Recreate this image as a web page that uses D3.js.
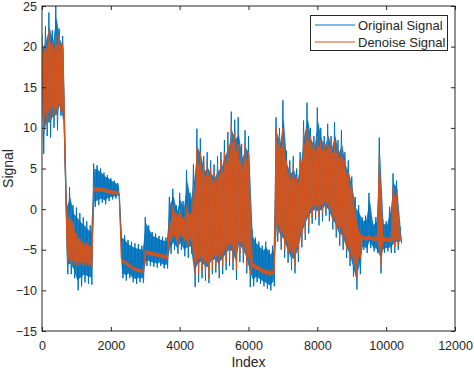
<!DOCTYPE html>
<html>
<head>
<meta charset="utf-8">
<script src="https://cdn.jsdelivr.net/npm/d3@7"></script>
<style>
  html, body { margin: 0; padding: 0; background: #fff; }
  text { font-family: "Liberation Sans", Arial, Helvetica, sans-serif; fill: #262626; }
</style>
</head>
<body>
<svg id="chart" width="474" height="370"></svg>
<script>
// ---- data (per 100-sample bin: upper and lower envelope) ----
const binStep = 100;
const origHi = [21.5,22.5,24.2,22,25.5,22.2,21.3,1.5,
  2.7,0.5,0.2,-0.5,-1.0,-1.5,-2.0,
  5.6,5.4,5.0,4.5,4.2,3.8,3.5,3.2,
  -2.8,-3.2,-3.8,-4.0,-4.2,-4.3,-4.5,
  -1.0,-2.0,-2.8,-3.0,-3.3,-3.4,-3.5,
  1.5,2.5,0.5,2.0,1.0,4.8,2.0,
  5.5,9.9,8.7,6.5,7.0,6.0,5.5,6.5,7.0,8.5,9.5,12.0,11.0,11.3,8.0,9.7,9.0,
  -2.5,-3.5,-4.0,-4.5,-4.0,-5.0,-4.5,
  11.3,10.0,13.4,7.2,6.0,6.5,5.0,7.0,10.9,13.1,10.0,9.0,12.5,10.0,9.0,10.5,9.0,10.7,8.5,9.7,7.0,6.0,4.0,1.5,
  0.5,-1.0,-0.8,2.0,-1.5,-1.0,8.8,-1.3,-1.5,0.3,4.4,3.5,-2.2];
const origLo = [6.8,9.0,8.8,10,9.7,11.5,9.3,-8,
  -8,-8.5,-10,-9.5,-9,-9.2,-9.3,
  0.3,0.5,0.8,0.6,1.0,1.2,1.3,1.5,
  -8.5,-8.8,-8.5,-9.0,-9.2,-9.0,-9.1,
  -7,-7.0,-7.1,-7.2,-7.0,-7.3,-7.3,
  -5.5,-5.0,-5.5,-5.0,-5.8,-6.0,-5.5,
  -9.6,-9,-8.5,-8.8,-9.1,-8.0,-7.8,-8.5,-8.0,-7.5,-7.0,-7.5,-8.7,-6.5,-6.6,-7.9,-9.6,
  -9.5,-9.0,-9.2,-9.5,-9.8,-10.0,-9.5,
  -4,-5,-6,-6.6,-7.5,-7.9,-6.5,-4.7,-3.8,-3.0,-1.8,-1.3,-2.0,-1.5,-0.8,-1.5,-2.5,-3.5,-4.5,-5.0,-6.0,-7.0,-8.3,-9.9,
  -8,-5.0,-5.4,-4.8,-5.2,-5.4,-7.9,-5.4,-5.2,-5.4,-5.4,-5.0,-4.2];
const denoiseHi = [20.5,21,22,20.5,21.5,21.5,20.5,-0.1,
  -0.5,-1.5,-3,-3.5,-4,-4,-4.5,
  2.8,2.7,2.7,2.6,2.5,2.4,2.3,2.2,
  -6.0,-6.3,-6.6,-6.9,-7.2,-7.3,-7.4,
  -5.0,-5.1,-5.2,-5.3,-5.4,-5.5,-5.6,
  -1.5,0.5,-0.5,0,-1,0.5,-0.5,
  3,7.5,7,5.5,6,5,4.5,5.5,6,7,8,10.5,9.5,8,6.5,8,7,
  -6.5,-6.8,-7.0,-7.3,-7.4,-7.5,-7.5,
  10,9,10,6,5,5.5,4,6,9.5,10,9,8,9,8.5,8,9,8,8.5,7.5,8,6,4.5,3,0,
  -2.5,-3.2,-3.3,-3.2,-3.4,-3.3,6.4,-3.4,-3.4,-3.5,2.7,2,-3.3];
const denoiseLo = [9.5,10.5,11,11.5,11,12,10.5,-6.6,
  -7,-7,-7,-7,-7,-7,-7.2,
  2.2,2.1,2.1,2.0,1.9,1.8,1.8,1.8,
  -6.6,-6.9,-7.2,-7.5,-7.7,-7.8,-7.9,
  -5.6,-5.7,-5.8,-5.9,-6.0,-6.1,-6.2,
  -4,-3.5,-4.5,-3.5,-4,-4.5,-4,
  -8,-8,-7.5,-8,-8.5,-7.5,-7,-7.5,-7,-6.5,-6,-6.5,-7.5,-5.5,-5.5,-7,-8,
  -7.3,-7.5,-7.7,-8,-8.1,-8.2,-8.0,
  -3,-4,-5,-5.5,-6.5,-7,-5.5,-4,-3,-2,-1,-0.5,-1,-0.5,0,-0.5,-1.5,-2.5,-3.5,-4,-5,-6,-7,-8.5,
  -6,-3.8,-3.9,-3.8,-4.0,-3.9,-7,-4.0,-4.0,-4.1,-4.7,-4.5,-3.7];
const xTicks = [0,2000,4000,6000,8000,10000,12000];
const yTicks = [-15,-10,-5,0,5,10,15,20,25];
const seriesNames = ["Original Signal","Denoise Signal"];
const seriesColors = ["#0072BD","#D95319"];

// ---- layout ----
const svg = d3.select("#chart");
const L = 42, R = 455, T = 6, B = 331;
const x = d3.scaleLinear().domain([0,12000]).range([L,R]);
const y = d3.scaleLinear().domain([-15,25]).range([B,T]);
const axisColor = "#262626";

function zig(hi, lo) {
  const pts = [];
  hi.forEach((h,i) => {
    pts.push([i*binStep, h]);
    pts.push([i*binStep + binStep/2, lo[i]]);
  });
  return pts;
}
// inner core of each bin (a little inside the extremes) as a filled band
function core(hi, lo) {
  return hi.map((h,i) => ({i: i*binStep + binStep/4, hi: h - (h-lo[i])*0.12, lo: lo[i] + (h-lo[i])*0.12}));
}
const line = d3.line().x(d => x(d[0])).y(d => y(d[1]));
const area = d3.area().x(d => x(d.i)).y0(d => y(d.lo)).y1(d => y(d.hi));

svg.append("defs").append("clipPath").attr("id","clip")
  .append("rect").attr("x",L).attr("y",T).attr("width",R-L).attr("height",B-T);

const g = svg.append("g").attr("clip-path","url(#clip)");
[[origHi, origLo],[denoiseHi, denoiseLo]].forEach(([hi, lo], k) => {
  g.append("path").attr("d", area(core(hi, lo)))
    .attr("fill", seriesColors[k]).attr("fill-opacity", k ? 0.85 : 0.9).attr("stroke","none");
  g.append("path").attr("d", line(zig(hi, lo)))
    .attr("fill","none").attr("stroke",seriesColors[k]).attr("stroke-width",1).attr("stroke-linejoin","round");
});

// ---- axes (MATLAB box style, inward ticks) ----
function styleAxis(sel) {
  sel.select(".domain").remove();
  sel.selectAll(".tick line").attr("stroke",axisColor);
  sel.selectAll(".tick text").attr("fill",axisColor).style("font-size","12.5px")
     .style("font-family",'"Liberation Sans", Arial, sans-serif');
}
svg.append("g").attr("transform",`translate(0,${B})`)
  .call(d3.axisBottom(x).tickValues(xTicks).tickFormat(d3.format("d")).tickSizeInner(-4).tickSizeOuter(0).tickPadding(10))
  .call(styleAxis);
svg.append("g").attr("transform",`translate(0,${T})`)
  .call(d3.axisTop(x).tickValues(xTicks).tickFormat("").tickSizeInner(-4).tickSizeOuter(0))
  .call(styleAxis);
svg.append("g").attr("transform",`translate(${L},0)`)
  .call(d3.axisLeft(y).tickValues(yTicks).tickFormat(d3.format("d")).tickSizeInner(-4).tickSizeOuter(0).tickPadding(5))
  .call(styleAxis);
svg.append("g").attr("transform",`translate(${R},0)`)
  .call(d3.axisRight(y).tickValues(yTicks).tickFormat("").tickSizeInner(-4).tickSizeOuter(0))
  .call(styleAxis);

svg.append("rect").attr("x",L).attr("y",T).attr("width",R-L).attr("height",B-T)
  .attr("fill","none").attr("stroke",axisColor).attr("stroke-width",1);

// axis labels
svg.append("text").attr("x",(L+R)/2).attr("y",367).attr("text-anchor","middle")
  .style("font-size","14px").text("Index");
svg.append("text").attr("transform",`translate(13,${(T+B)/2}) rotate(-90)`).attr("text-anchor","middle")
  .style("font-size","14px").text("Signal");

// ---- legend ----
const lg = svg.append("g");
lg.append("rect").attr("x",310.5).attr("y",15.5).attr("width",137).attr("height",35)
  .attr("fill","#fff").attr("stroke",axisColor).attr("stroke-width",1);
const rowsY = [25, 42];
seriesNames.forEach((n,i) => {
  lg.append("line").attr("x1",315).attr("x2",355).attr("y1",rowsY[i]).attr("y2",rowsY[i])
    .attr("stroke",seriesColors[i]).attr("stroke-width",1);
  lg.append("text").attr("x",358).attr("y",rowsY[i]+4.5).style("font-size","13px").text(n);
});
</script>
</body>
</html>
